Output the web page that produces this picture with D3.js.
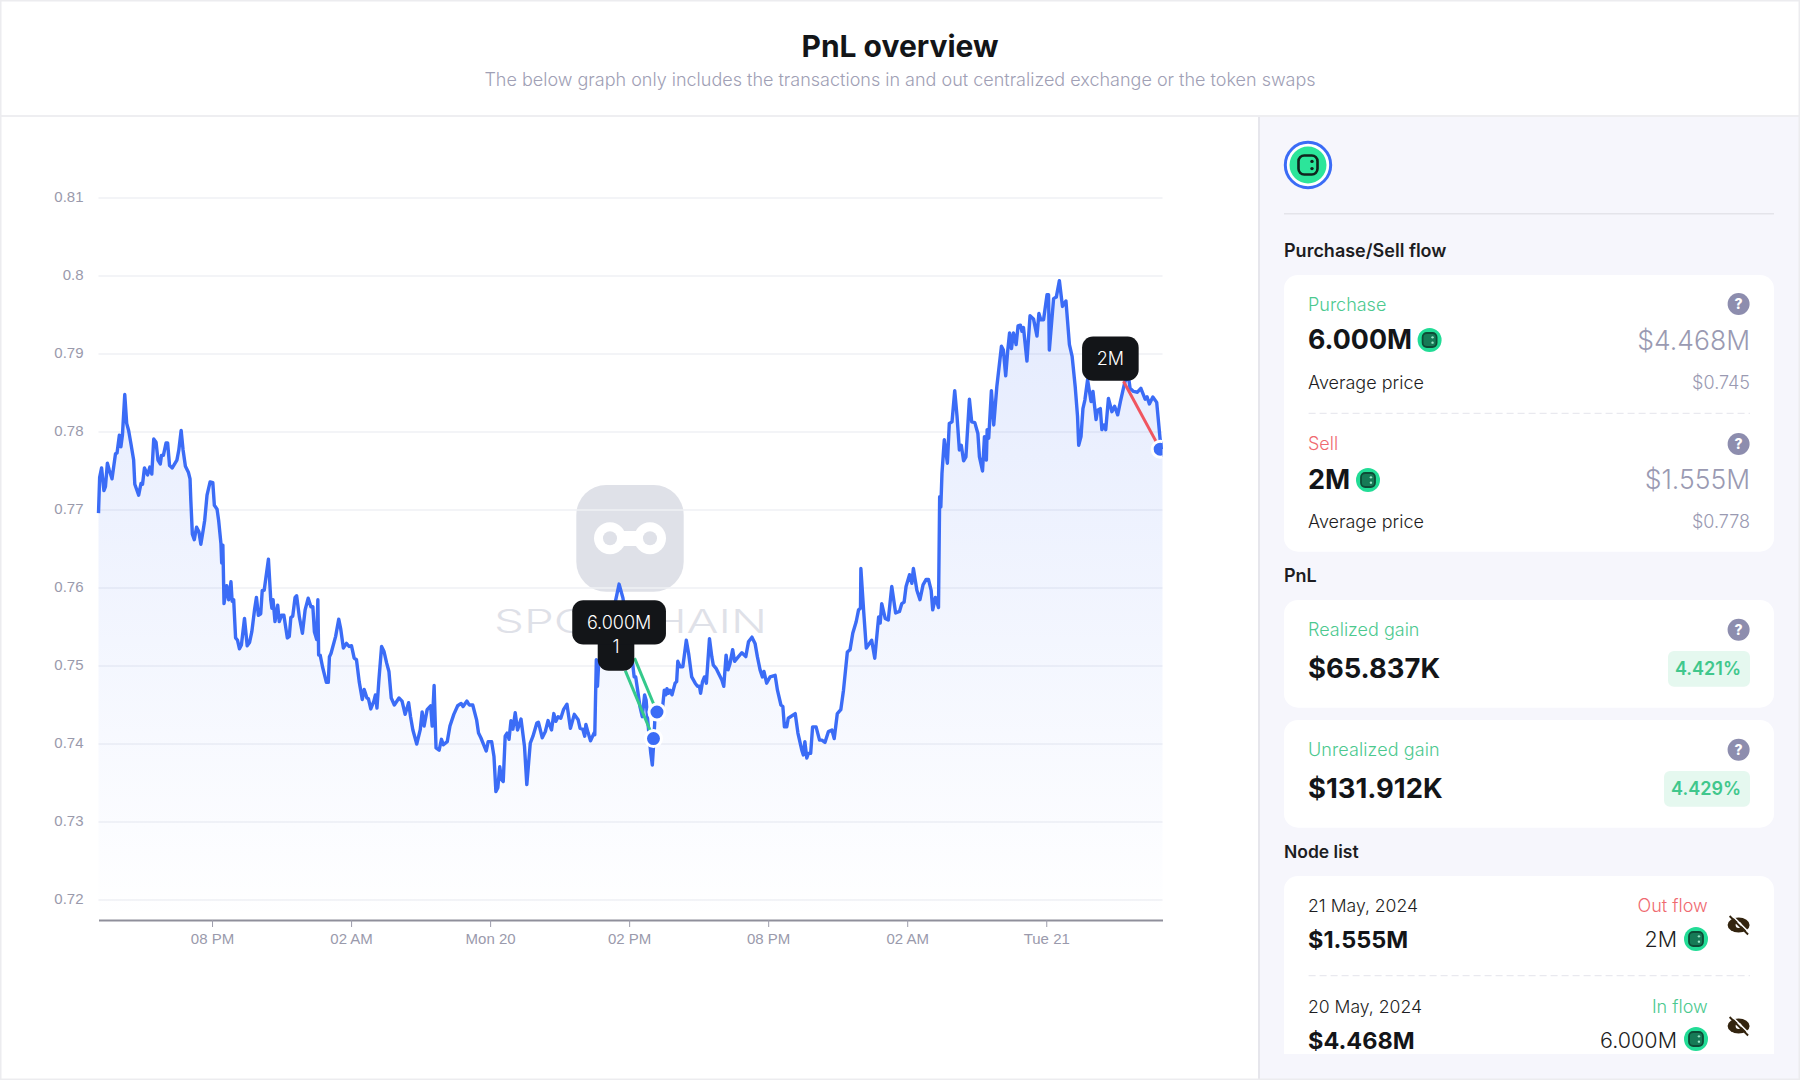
<!DOCTYPE html>
<html>
<head>
<meta charset="utf-8">
<style>html,body{margin:0;padding:0;background:#fff;}svg{display:block;}</style>
<script src="https://cdn.jsdelivr.net/npm/d3@7"></script>
</head>
<body>
<svg id="c" width="1800" height="1080"></svg>
<script>
// minutes after 19 May 2024 15:06 UTC
const minutes=[0,3,8,14,18,23,28,35,44,48,54,58,62,68,73,78,84,91,94,104,110,114,119,127,133,138,143,149,154,160,163,168,175,179,184,191,203,208,214,219,225,233,237,239,243,248,254,260,265,271,275,281,289,296,300,307,311,317,319,322,325,332,337,343,346,350,355,360,365,370,378,385,391,397,404,409,414,420,424,429,440,446,449,452,457,464,468,474,480,489,494,498,503,509,513,520,528,535,543,550,555,559,565,568,570,574,580,590,595,598,602,614,622,627,634,642,649,655,662,668,675,683,688,695,699,705,713,717,721,726,733,739,746,752,758,766,778,786,794,803,808,814,824,833,838,843,851,860,864,869,874,882,888,893,903,910,920,930,939,944,954,960,969,979,984,990,1004,1009,1018,1024,1029,1034,1039,1044,1048,1053,1058,1063,1068,1073,1079,1085,1094,1103,1109,1118,1125,1135,1139,1149,1157,1164,1173,1179,1184,1190,1197,1204,1213,1222,1232,1242,1247,1254,1259,1262,1268,1274,1283,1285,1289,1292,1295,1299,1316,1338,1348,1358,1368,1381,1387,1391,1396,1402,1408,1414,1418,1422,1426,1430,1434,1437,1441,1446,1453,1460,1465,1469,1472,1476,1480,1485,1493,1497,1500,1506,1513,1522,1528,1536,1545,1551,1556,1559,1564,1569,1574,1582,1588,1592,1599,1605,1614,1619,1625,1630,1635,1642,1647,1657,1666,1676,1683,1692,1700,1706,1713,1719,1723,1730,1739,1752,1758,1767,1772,1776,1782,1786,1804,1811,1821,1825,1829,1834,1838,1844,1849,1858,1867,1873,1881,1890,1899,1905,1913,1922,1929,1939,1946,1953,1962,1968,1973,1974,1981,1988,2002,2010,2020,2024,2028,2037,2045,2054,2064,2074,2080,2086,2091,2100,2106,2110,2119,2127,2135,2143,2149,2156,2160,2167,2175,2178,2181,2184,2190,2198,2203,2210,2217,2223,2229,2234,2240,2246,2255,2261,2269,2277,2281,2289,2294,2299,2301,2305,2312,2318,2326,2338,2343,2349,2354,2359,2364,2369,2376,2381,2387,2391,2395,2404,2412,2421,2430,2435,2440,2447,2456,2460,2462,2473,2480,2488,2496,2505,2514,2521,2529,2535,2538,2544,2549,2554,2561,2570,2575,2583,2587,2594,2598,2604,2608,2615,2624,2631,2639,2646,2652,2658,2667,2671,2680,2690,2699,2710,2715,2721,2730,2740,2749,2752];
const prices=[.7696,.7742,.7754,.7725,.7730,.7760,.7751,.7740,.7772,.7773,.7796,.7781,.7796,.7848,.7811,.7802,.7785,.7764,.7733,.7719,.7734,.7733,.7754,.7745,.7755,.7746,.7791,.7787,.7764,.7759,.7770,.7770,.7786,.7786,.7757,.7754,.7764,.7777,.7802,.7777,.7756,.7748,.7740,.7713,.7669,.7662,.7678,.7672,.7656,.7674,.7687,.7719,.7736,.7735,.7706,.7701,.7687,.7657,.7632,.7655,.7580,.7603,.7585,.7608,.7583,.7585,.7536,.7533,.7522,.7527,.7561,.7526,.7530,.7544,.7572,.7588,.7565,.7567,.7597,.7597,.7637,.7585,.7574,.7585,.7557,.7578,.7557,.7565,.7565,.7536,.7538,.7562,.7564,.7588,.7590,.7563,.7542,.7572,.7587,.7576,.7576,.7544,.7534,.7585,.7514,.7514,.7499,.7479,.7479,.7512,.7516,.7538,.7560,.7548,.7523,.7529,.7525,.7526,.7510,.7508,.7480,.7457,.7470,.7459,.7458,.7445,.7455,.7463,.7446,.7482,.7525,.7519,.7504,.7493,.7459,.7450,.7459,.7455,.7438,.7453,.7435,.7418,.7400,.7418,.7441,.7423,.7444,.7449,.7423,.7475,.7395,.7392,.7406,.7399,.7403,.7423,.7438,.7449,.7452,.7448,.7455,.7450,.7450,.7431,.7414,.7408,.7391,.7403,.7403,.7384,.7339,.7344,.7371,.7354,.7352,.7410,.7414,.7406,.7430,.7419,.7440,.7418,.7432,.7397,.7348,.7401,.7410,.7427,.7428,.7408,.7416,.7430,.7418,.7439,.7429,.7435,.7433,.7444,.7451,.7420,.7438,.7431,.7420,.7419,.7410,.7425,.7414,.7404,.7414,.7412,.7508,.7474,.7503,.7508,.7542,.7582,.7605,.7587,.7550,.7512,.7486,.7486,.7469,.7448,.7435,.7463,.7456,.7431,.7409,.7388,.7373,.7397,.7435,.7444,.7448,.7444,.7469,.7463,.7471,.7465,.7469,.7463,.7478,.7480,.7506,.7499,.7499,.7533,.7516,.7486,.7478,.7474,.7474,.7465,.7480,.7486,.7478,.7535,.7512,.7501,.7497,.7491,.7482,.7474,.7514,.7495,.7503,.7521,.7506,.7512,.7517,.7512,.7531,.7537,.7529,.7512,.7495,.7486,.7493,.7478,.7486,.7488,.7469,.7450,.7448,.7422,.7422,.7433,.7439,.7414,.7392,.7386,.7403,.7382,.7388,.7388,.7422,.7422,.7405,.7405,.7402,.7416,.7418,.7407,.7439,.7444,.7469,.7518,.7521,.7542,.7557,.7572,.7574,.7625,.7572,.7523,.7533,.7510,.7563,.7555,.7580,.7561,.7559,.7602,.7568,.7570,.7580,.7582,.7602,.7617,.7606,.7625,.7597,.7585,.7604,.7611,.7611,.7597,.7572,.7588,.7575,.7717,.7704,.7747,.7790,.7760,.7811,.7813,.7853,.7820,.7777,.7783,.7763,.7768,.7842,.7813,.7812,.7798,.7768,.7750,.7794,.7764,.7803,.7792,.7853,.7809,.7858,.7910,.7905,.7872,.7903,.7927,.7907,.7927,.7912,.7936,.7937,.7929,.7934,.7891,.7949,.7945,.7923,.7952,.7944,.7944,.7976,.7976,.7905,.7971,.7973,.7994,.7961,.7968,.7912,.7897,.7858,.7820,.7783,.7794,.7830,.7841,.7867,.7839,.7852,.7816,.7828,.7830,.7803,.7809,.7803,.7843,.7826,.7833,.7822,.7839,.7852,.7865,.7871,.7856,.7852,.7851,.7856,.7842,.7845,.7836,.7845,.7838,.7790,.7778];
const priceTicks=[0.72,0.73,0.74,0.75,0.76,0.77,0.78,0.79,0.80,0.81];
const timeTicks=[294,654,1014,1374,1734,2094,2454];
const timeLabels=["08 PM","02 AM","Mon 20","02 PM","08 PM","02 AM","Tue 21"];
// trade nodes: dot (m,v), leader start (fm,fv), colour key
const nodeMinutes=[1437,1446,2749];
const nodePrices=[0.7407,0.7441,0.7778];
const leaderMinutes=[1364,1388,2654];
const leaderPrices=[0.7494,0.7510,0.7865];
const nodeColors=["#35c98b","#35c98b","#f0555f"];
// label anchors
const labelTexts=["1","6.000M","2M"];
const labelMinutes=[1340,1348,2620];
const labelPrices=[0.7532,0.7556,0.7894];
const labelSizes=[[36.6,59.4],[93.7,44.3],[56.6,44.3]];
const labelShift=[5.7,0,0];

const svg=d3.select("#c");
const FONT="Inter, 'Noto Sans', sans-serif";
const AXF="'Liberation Sans', Arial, sans-serif";
const BLUE="#3b6cf6";
const x=d3.scaleLinear().domain([0,2755]).range([98.5,1162.5]);
const y=d3.scaleLinear().domain([0.72,0.81]).range([900,198]);
const axisY=920;

function T(s,px,py,o={}){
  return svg.append("text").attr("x",px).attr("y",py).text(s)
    .attr("font-family",o.ff||FONT).attr("font-size",o.size||18).attr("font-weight",o.w||300)
    .attr("fill",o.fill||"#1d1d22").attr("text-anchor",o.a||"start");
}

// frame
svg.append("rect").attr("width",1800).attr("height",1080).attr("fill","#fff");
const defs=svg.append("defs");
const g=defs.append("linearGradient").attr("id","area")
  .attr("gradientUnits","userSpaceOnUse").attr("x1",0).attr("y1",y(0.7994)).attr("x2",0).attr("y2",axisY);
g.append("stop").attr("offset",0).attr("stop-color",BLUE).attr("stop-opacity",0.14);
g.append("stop").attr("offset",1).attr("stop-color",BLUE).attr("stop-opacity",0);
defs.append("clipPath").attr("id","plot").append("rect").attr("x",90).attr("y",180).attr("width",1072.5).attr("height",745);

// watermark
const wm=svg.append("g");
wm.append("rect").attr("x",576.3).attr("y",485).attr("width",107.4).attr("height",106.7).attr("rx",30).attr("fill","#dfe1e8");
wm.append("rect").attr("x",610).attr("y",531).attr("width",40).attr("height",15).attr("fill","#fff");
wm.selectAll("circle.o").data([610,650]).join("circle").attr("cx",d=>d).attr("cy",538.3).attr("r",16).attr("fill","#fff");
wm.selectAll("circle.i").data([610,650]).join("circle").attr("cx",d=>d).attr("cy",538.3).attr("r",7).attr("fill","#dfe1e8");
T("SPOTCHAIN",494,633,{size:32,w:300,fill:"#dfe1e8"}).attr("textLength",273).attr("lengthAdjust","spacingAndGlyphs");

// grid
svg.append("g").selectAll("line").data(priceTicks).join("line")
  .attr("x1",98.5).attr("x2",1162.5).attr("y1",d=>y(d)).attr("y2",d=>y(d))
  .attr("stroke","#eff0f4").attr("stroke-width",1.5);

// y labels
svg.append("g").selectAll("text").data(priceTicks).join("text")
  .attr("x",83.5).attr("y",d=>y(d)+4).attr("text-anchor","end")
  .attr("font-family",AXF).attr("font-size",15).attr("fill","#9a9aac")
  .text(d=>String(+d.toFixed(2)));

// area + line
const area=d3.area().x(d=>x(d[0])).y0(axisY).y1(d=>y(d[1]));
const line=d3.line().x(d=>x(d[0])).y(d=>y(d[1]));
const pts=minutes.map((m,i)=>[m,prices[i]]);
pts.push([2755,prices[prices.length-1]]);
svg.append("path").attr("d",area(pts)).attr("fill","url(#area)");
svg.append("path").attr("d",line(pts.slice(0,-1))).attr("fill","none").attr("stroke",BLUE).attr("stroke-width",3.4).attr("stroke-linejoin","round");

// x axis
const ax=svg.append("g").attr("transform",`translate(0,${axisY})`)
  .call(d3.axisBottom(x).tickValues(timeTicks).tickSizeInner(7).tickSizeOuter(0).tickPadding(6.5).tickFormat((d,i)=>timeLabels[i]));
ax.select(".domain").attr("stroke","#8f8f9b").attr("stroke-width",2);
ax.selectAll(".tick line").attr("stroke","#9c9cab");
ax.selectAll(".tick text").attr("font-family",AXF).attr("font-size",15).attr("fill","#9a9aac");

// leaders and nodes
const marks=svg.append("g").attr("clip-path","url(#plot)");
marks.append("g").selectAll("line").data(nodeMinutes).join("line")
  .attr("x1",(d,i)=>x(leaderMinutes[i])).attr("y1",(d,i)=>y(leaderPrices[i]))
  .attr("x2",d=>x(d)).attr("y2",(d,i)=>y(nodePrices[i]))
  .attr("stroke",(d,i)=>nodeColors[i]).attr("stroke-width",3);
marks.append("g").selectAll("circle").data(nodeMinutes).join("circle")
  .attr("cx",d=>x(d)).attr("cy",(d,i)=>y(nodePrices[i])).attr("r",8)
  .attr("fill",BLUE).attr("stroke","#fff").attr("stroke-width",3);

// labels: boxes first so the "1" text sits above the neighbouring box
labelTexts.forEach((s,i)=>{
  const [w,h]=labelSizes[i],cx=x(labelMinutes[i]),cy=y(labelPrices[i]);
  svg.append("rect").attr("x",cx-w/2).attr("y",cy-h/2).attr("width",w).attr("height",h).attr("rx",11).attr("fill","#131518");
});
labelTexts.forEach((s,i)=>{
  T(s,x(labelMinutes[i]),y(labelPrices[i])+labelShift[i]+6.5,{size:18,a:"middle",fill:"#fff"});
});

// title
T("PnL overview",900,57,{size:30,w:700,a:"middle",fill:"#131518"});
T("The below graph only includes the transactions in and out centralized exchange or the token swaps",900,85.5,{size:18,a:"middle",fill:"#a0a0b5"});

// side panel
svg.append("rect").attr("x",1259).attr("y",116).attr("width",541).attr("height",964).attr("fill","#f6f6fc");
svg.append("line").attr("x1",1259).attr("x2",1259).attr("y1",116).attr("y2",1080).attr("stroke","#e6e6ec").attr("stroke-width",2);
svg.append("line").attr("x1",0).attr("x2",1800).attr("y1",116).attr("y2",116).attr("stroke","#eeeef1").attr("stroke-width",2);
svg.append("rect").attr("x",0.75).attr("y",0.75).attr("width",1798.5).attr("height",1078.5).attr("fill","none").attr("stroke","#ececef").attr("stroke-width",1.5);

function wallet(cx,cy,r){
  const mini=r<15;
  svg.append("circle").attr("cx",cx).attr("cy",cy).attr("r",r).attr("fill",mini?"#22dc96":"#2ce59a");
  const s=mini?7:9.5;
  svg.append("rect").attr("x",cx-s).attr("y",cy-s).attr("width",s*2).attr("height",s*2).attr("rx",s*.6)
    .attr("fill",mini?"#167a56":"none").attr("stroke",mini?"#0e4a36":"#10241d").attr("stroke-width",mini?1.8:2.6);
  [-.38,.38].forEach(d=>svg.append("circle").attr("cx",cx+s*.42).attr("cy",cy+s*d).attr("r",mini?1.2:1.7).attr("fill",mini?"#9be8c8":"#10241d"));
}
function help(cx,cy){
  svg.append("circle").attr("cx",cx).attr("cy",cy).attr("r",11).attr("fill","#8d8dae");
  T("?",cx,cy+5,{size:14,w:800,a:"middle",fill:"#fff"});
}
function card(px,py,w,h,r=14){svg.append("rect").attr("x",px).attr("y",py).attr("width",w).attr("height",h).attr("rx",r).attr("fill","#fff");}
function dash(py){svg.append("line").attr("x1",1308.6).attr("x2",1750).attr("y1",py).attr("y2",py).attr("stroke","#e9e9ef").attr("stroke-width",1.2).attr("stroke-dasharray","7 4");}
function eye(cx,cy){
  const e=svg.append("g").attr("transform",`translate(${cx},${cy})`);
  e.append("ellipse").attr("rx",11).attr("ry",7.5).attr("fill","#33240f");
  e.append("circle").attr("r",3).attr("fill","#fff");
  e.append("line").attr("x1",-7.5).attr("y1",-10.5).attr("x2",10.5).attr("y2",7.5).attr("stroke","#fff").attr("stroke-width",1.6);
  e.append("line").attr("x1",-9).attr("y1",-9).attr("x2",9.5).attr("y2",9.5).attr("stroke","#33240f").attr("stroke-width",1.8);
}
const GREEN="#4cc98f",RED="#ef6a70",GREY="#9a9ab2",LX=1308;

svg.append("circle").attr("cx",1308).attr("cy",165).attr("r",22).attr("fill","#fff");
wallet(1308,165,18.5);
svg.append("circle").attr("cx",1308).attr("cy",165).attr("r",22.7).attr("fill","none").attr("stroke",BLUE).attr("stroke-width",3);
svg.append("line").attr("x1",1284).attr("x2",1774).attr("y1",213.7).attr("y2",213.7).attr("stroke","#e4e4ea").attr("stroke-width",1.5);

T("Purchase/Sell flow",1284,256.5,{size:18,w:600});
card(1284,275,490,276.7);
T("Purchase",LX,310.8,{fill:GREEN});
help(1738.6,304);
T("6.000M",LX,349,{size:26.8,w:700,fill:"#131518"});
wallet(1429.6,340,12);
T("$4.468M",1750,349.5,{size:26.5,a:"end",fill:GREY});
T("Average price",LX,388.7,{});
T("$0.745",1750,388.7,{a:"end",fill:GREY});
dash(413.3);
T("Sell",LX,449.8,{fill:RED});
help(1738.6,444);
T("2M",LX,488.5,{size:27,w:700,fill:"#131518"});
wallet(1368,480,12);
T("$1.555M",1750,489,{size:26.5,a:"end",fill:GREY});
T("Average price",LX,527.7,{});
T("$0.778",1750,527.7,{a:"end",fill:GREY});

T("PnL",1284,581.5,{size:18,w:600});
card(1284,600,490,107.7);
T("Realized gain",LX,635.8,{fill:GREEN});
help(1738.6,629.7);
T("$65.837K",LX,677.6,{size:27.4,w:700,fill:"#131518"});
svg.append("rect").attr("x",1668).attr("y",651).attr("width",82).attr("height",35.7).attr("rx",6).attr("fill","#e5f8ef");
T("4.421%",1741,675,{size:18,w:600,a:"end",fill:"#40c78c"});

card(1284,720,490,107.7);
T("Unrealized gain",LX,755.8,{fill:GREEN}).attr("letter-spacing",0.1);
help(1738.6,749.7);
T("$131.912K",LX,797.6,{size:27.4,w:700,fill:"#131518"});
svg.append("rect").attr("x",1664).attr("y",771).attr("width",86).attr("height",35.7).attr("rx",6).attr("fill","#e5f8ef");
T("4.429%",1741,795,{size:18,w:600,a:"end",fill:"#40c78c"});

T("Node list",1284,857.5,{size:17.5,w:600});
svg.append("path").attr("d","M1284 1054V890a14 14 0 0 1 14-14H1760a14 14 0 0 1 14 14V1054Z").attr("fill","#fff");
T("21 May, 2024",LX,912.3,{size:17.6});
T("Out flow",1707.7,912.3,{a:"end",fill:RED});
T("$1.555M",LX,948,{size:23.5,w:700,fill:"#131518"});
T("2M",1677,947,{size:21.5,a:"end"});
wallet(1696,939,12);
eye(1738.6,925);
dash(975.7);
T("20 May, 2024",LX,1013.3,{size:17.6});
T("In flow",1707.7,1013.3,{a:"end",fill:GREEN});
T("$4.468M",LX,1049,{size:23.5,w:700,fill:"#131518"});
T("6.000M",1677,1048,{size:21.5,a:"end"});
wallet(1696,1039,12);
eye(1738.6,1026);
</script>
</body>
</html>
